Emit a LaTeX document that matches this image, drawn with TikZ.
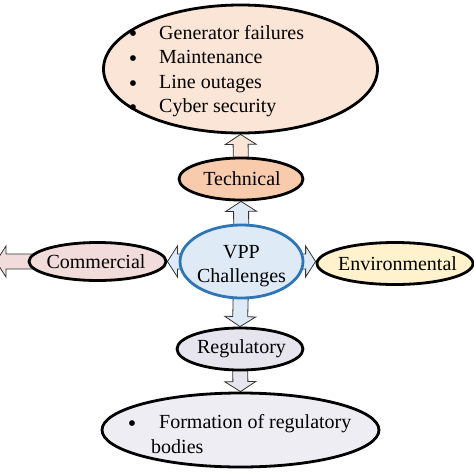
\documentclass[tikz,border=0pt]{standalone}
\usepackage{fontspec}
\setmainfont{Liberation Serif}
\usetikzlibrary{shapes.geometric,calc}
\pgfdeclarelayer{background}
\pgfsetlayers{background,main}
\definecolor{toppeach}{HTML}{FBE5D6}
\definecolor{techpeach}{HTML}{F8CBAD}
\definecolor{vppblue}{HTML}{DEEBF7}
\definecolor{vppborder}{HTML}{2E75B6}
\definecolor{commpink}{HTML}{F2DCDB}
\definecolor{envyellow}{HTML}{FFF2CC}
\definecolor{reglav}{HTML}{E6E5EE}
\definecolor{botlav}{HTML}{EEEDF4}
\tikzset{
  oval/.style={ellipse, draw=black, line width=2.8pt, inner sep=0pt},
  lbl/.style={font=\fontsize{20}{24}\selectfont, inner sep=0pt},
  bul/.style={font=\fontsize{24}{24}\selectfont, inner sep=0pt, anchor=base},
  blockarr/.style={draw=black!80, line width=0.8pt, line join=miter},
}
\newcommand\blockarrow[3]{%
  \path ($(#2)!10pt!(#1)$) coordinate (ba-h);
  \draw[blockarr,fill=#3] ($(#1)!7.5pt!90:(#2)$) -- ($(ba-h)!7.5pt!90:(#2)$)
    -- ($(ba-h)!15.5pt!90:(#2)$) -- (#2) -- ($(ba-h)!15.5pt!-90:(#2)$)
    -- ($(ba-h)!7.5pt!-90:(#2)$) -- ($(#1)!7.5pt!-90:(#2)$) -- cycle;}
\begin{document}
\begin{tikzpicture}[x=1pt,y=-1pt]
\useasboundingbox (0,0) rectangle (474,474);
% ellipses
\node[oval, fill=toppeach, minimum width=274pt, minimum height=128pt] (top) at (240.5,69) {};
\node[oval, fill=techpeach, minimum width=124pt, minimum height=42pt] (tech) at (241,179) {};
\node[oval, fill=vppblue, draw=vppborder, minimum width=123pt, minimum height=73pt] (vpp) at (241.5,261.5) {};
\node[oval, fill=commpink, minimum width=137pt, minimum height=38pt] (comm) at (97.5,261.5) {};
\node[oval, fill=envyellow, minimum width=156pt, minimum height=42pt] (env) at (395,263.5) {};
\node[oval, fill=reglav, minimum width=126pt, minimum height=42pt] (reg) at (240,349) {};
\node[oval, fill=botlav, minimum width=277pt, minimum height=74pt] (bot) at (240.5,430) {};
% texts
\node[bul] (b1) at (133,41) {\textbullet};
\node[lbl, anchor=base west] (t1) at (159,39) {Generator failures};
\node[bul] (b2) at (133,66) {\textbullet};
\node[lbl, anchor=base west] (t2) at (159,63.5) {Maintenance};
\node[bul] (b3) at (133,91) {\textbullet};
\node[lbl, anchor=base west] (t3) at (159,88) {Line outages};
\node[bul] (b4) at (133,115) {\textbullet};
\node[lbl, anchor=base west] (t4) at (159,112.5) {Cyber security};
\node[lbl, anchor=base] (ltech) at (242,185.5) {Technical};
\node[lbl, anchor=base] (lvpp1) at (241.5,258.5) {VPP};
\node[lbl, anchor=base] (lvpp2) at (241.5,282) {Challenges};
\node[lbl, anchor=base] (lcomm) at (96,268) {Commercial};
\node[lbl, anchor=base] (lenv) at (397.5,270.5) {Environmental};
\node[lbl, anchor=base] (lreg) at (241.5,353.5) {Regulatory};
\node[bul] (b5) at (132,431) {\textbullet};
\node[lbl, anchor=base west] (t5) at (159,428.5) {Formation of regulatory};
\node[lbl, anchor=base west] (t6) at (151,453) {bodies};
% connector end points
\coordinate (leftend) at (-4,261.5);
\coordinate (envtail) at (vpp.center);
\coordinate (envtip) at (env.west |- vpp.center);
% arrows
\begin{pgfonlayer}{background}
\blockarrow{tech.center}{top.south}{toppeach}
\blockarrow{vpp.center}{tech.south}{vppblue}
\blockarrow{vpp.center}{comm.east}{vppblue}
\blockarrow{envtail}{envtip}{vppblue}
\blockarrow{vpp.center}{reg.north}{vppblue}
\blockarrow{reg.center}{bot.north}{reglav}
\blockarrow{comm.center}{leftend}{commpink}
\end{pgfonlayer}
\end{tikzpicture}
\end{document}
